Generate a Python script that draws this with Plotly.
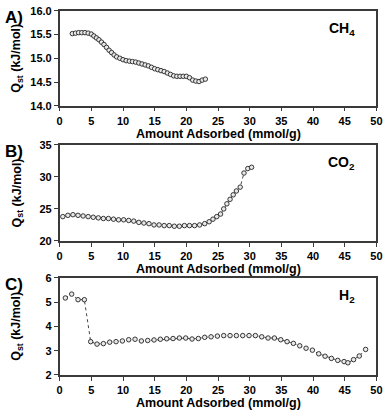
import plotly.graph_objects as go

# ---- data ----
ch4_x = [2.0, 2.5, 3.0, 3.5, 4.0, 4.5, 5.0, 5.4, 5.8, 6.2, 6.6, 7.0, 7.4, 7.8, 8.2, 8.6, 9.0, 9.5,
         10.0, 10.5, 11.0, 11.5, 12.0, 12.5, 13.0, 13.5, 14.0, 14.5, 15.0, 15.5, 16.0, 16.5, 17.0,
         17.5, 18.0, 18.5, 19.0, 19.5, 20.0, 20.5, 21.0, 21.5, 22.0, 22.5, 23.0]
ch4_y = [15.52, 15.53, 15.54, 15.54, 15.54, 15.53, 15.51, 15.47, 15.43, 15.39, 15.34, 15.29, 15.23,
         15.17, 15.12, 15.07, 15.03, 15.00, 14.97, 14.95, 14.94, 14.93, 14.92, 14.90, 14.88, 14.86,
         14.84, 14.81, 14.78, 14.76, 14.74, 14.72, 14.69, 14.66, 14.63, 14.62, 14.62, 14.62, 14.62,
         14.59, 14.54, 14.52, 14.51, 14.54, 14.56]

co2_x = [0.5, 1.3, 2.1, 2.9, 3.7, 4.5, 5.3, 6.1, 6.9, 7.7, 8.5, 9.3, 10.1, 10.9, 11.7, 12.5, 13.3,
         14.1, 14.9, 15.7, 16.5, 17.3, 18.1, 18.9, 19.7, 20.5, 21.3, 22.1, 22.9, 23.6, 24.2, 24.8,
         25.4, 25.9, 26.4, 26.9, 27.4, 27.9, 28.5, 29.1, 29.7, 30.3]
co2_y = [23.8, 24.0, 24.1, 24.0, 23.9, 23.8, 23.7, 23.6, 23.5, 23.5, 23.4, 23.3, 23.3, 23.2, 23.1,
         22.9, 22.8, 22.7, 22.5, 22.5, 22.4, 22.4, 22.3, 22.3, 22.4, 22.4, 22.4, 22.5, 22.7, 23.0,
         23.4, 23.8, 24.2, 25.0, 25.8, 26.5, 27.2, 27.8, 28.4, 30.6, 31.3, 31.5]

h2_x = [0.9, 1.9, 2.9, 3.9, 4.9, 5.9, 6.9, 7.9, 8.9, 9.9, 10.9, 11.9, 12.9, 13.9, 14.9, 15.9, 16.9,
        17.9, 18.9, 19.9, 20.9, 21.9, 22.9, 23.9, 24.9, 25.9, 26.9, 27.9, 28.9, 29.9, 30.9, 31.9,
        32.9, 33.9, 34.9, 35.9, 36.9, 37.9, 38.9, 39.9, 40.9, 41.9, 42.9, 43.9, 44.9, 45.5, 46.4,
        47.3, 48.3]
h2_y = [5.17, 5.33, 5.10, 5.10, 3.37, 3.27, 3.29, 3.35, 3.37, 3.40, 3.45, 3.47, 3.40, 3.42, 3.44,
        3.47, 3.49, 3.50, 3.52, 3.52, 3.48, 3.50, 3.55, 3.57, 3.60, 3.62, 3.62, 3.62, 3.62, 3.62,
        3.62, 3.57, 3.52, 3.52, 3.45, 3.37, 3.30, 3.20, 3.10, 3.02, 2.87, 2.77, 2.68, 2.60, 2.55,
        2.50, 2.63, 2.78, 3.05]

panels = [
    dict(x=ch4_x, y=ch4_y, rng=[14, 16], dtick=0.5, fmt=".1f", label="A)", gas="CH<sub>4</sub>",
         dom=[0.7507, 0.9879]),
    dict(x=co2_x, y=co2_y, rng=[20, 35], dtick=5, fmt="d", label="B)", gas="CO<sub>2</sub>",
         dom=[0.4126, 0.6529]),
    dict(x=h2_x, y=h2_y, rng=[2, 6], dtick=1, fmt="d", label="C)", gas="H<sub>2</sub>",
         dom=[0.0777, 0.3204]),
]

FONT = "Liberation Sans, Arial, sans-serif"
fig = go.Figure()
layout = dict(
    width=390, height=412,
    margin=dict(l=0, r=0, t=0, b=0),
    paper_bgcolor="white", plot_bgcolor="white",
    showlegend=False,
    font=dict(family=FONT, color="black"),
)
annotations = []
xdom = [0.1487, 0.980]
for i, p in enumerate(panels):
    n = "" if i == 0 else str(i + 1)
    fig.add_trace(go.Scatter(
        x=p["x"], y=p["y"], mode="lines+markers",
        line=dict(color="#444444", width=1, dash="dot"),
        marker=dict(symbol="circle", size=4.5, color="#e8e8e8",
                    line=dict(color="#222222", width=0.9)),
        xaxis="x" + n, yaxis="y" + n,
    ))
    layout["xaxis" + n] = dict(
        domain=xdom, anchor="y" + n, range=[0, 50], dtick=5, tick0=0,
        showgrid=False, zeroline=False, showline=True, mirror=True,
        linecolor="#3a3a3a", linewidth=1.5, ticks="outside", ticklen=4,
        tickcolor="#3a3a3a", tickfont=dict(size=11, family=FONT, weight="bold"),
    )
    layout["yaxis" + n] = dict(
        domain=p["dom"], anchor="x" + n, range=p["rng"], dtick=p["dtick"],
        tickformat=p["fmt"], showgrid=False, zeroline=False, showline=True, mirror=True,
        linecolor="#3a3a3a", linewidth=1.5, ticks="outside", ticklen=4,
        tickcolor="#3a3a3a", tickfont=dict(size=11, family=FONT, weight="bold"),
    )
    d0, d1 = p["dom"]
    # x-axis title
    annotations.append(dict(
        text="<b>Amount Adsorbed (mmol/g)</b>", xref="paper", yref="paper",
        x=(xdom[0] + xdom[1]) / 2, y=d0 - 0.071, xanchor="center", yanchor="middle",
        showarrow=False, font=dict(size=12.5, family=FONT)))
    # y-axis title
    annotations.append(dict(
        text="<b>Q<sub>st</sub> (kJ/mol)</b>", xref="paper", yref="paper",
        x=0.038, y=(d0 + d1) / 2, xanchor="center", yanchor="middle", textangle=-90,
        showarrow=False, font=dict(size=12.5, family=FONT)))
    # panel label
    annotations.append(dict(
        text="<b>" + p["label"] + "</b>", xref="paper", yref="paper",
        x=0.0, y=d1 + 0.012, xanchor="left", yanchor="top",
        showarrow=False, font=dict(size=17, family=FONT)))
    # gas label
    annotations.append(dict(
        text="<b>" + p["gas"] + "</b>", xref="paper", yref="paper",
        x=0.93, y=d1 - 0.017, xanchor="right", yanchor="top",
        showarrow=False, font=dict(size=14, family=FONT)))

layout["annotations"] = annotations
fig.update_layout(**layout)
fig.write_html("out.html", config={"displayModeBar": False},
               post_script="document.body.style.margin='0';")
